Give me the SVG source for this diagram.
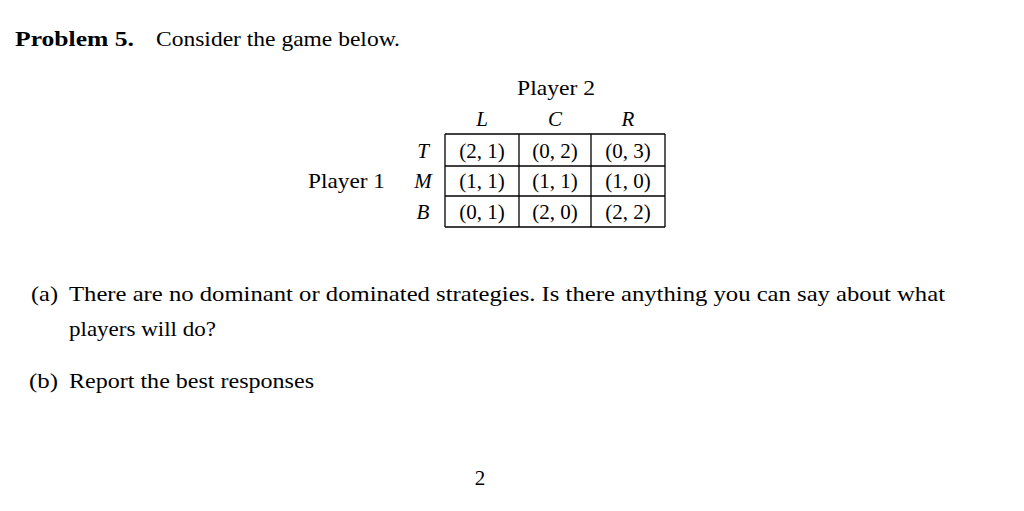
<svg xmlns="http://www.w3.org/2000/svg" width="1024" height="511" viewBox="0 0 1024 511">
<style>
text{font-family:"Liberation Serif","DejaVu Serif",serif;font-size:21px;fill:#000}
.i{font-style:italic}
.c{text-anchor:middle}
line{stroke:#000;stroke-width:1.3}
</style>
<rect width="1024" height="511" fill="#fff"/>
<text x="15" y="46" font-weight="bold" textLength="119" lengthAdjust="spacingAndGlyphs">Problem 5.</text>
<text x="156" y="46" textLength="244" lengthAdjust="spacingAndGlyphs">Consider the game below.</text>
<text x="517" y="95" textLength="78" lengthAdjust="spacingAndGlyphs">Player 2</text>
<text x="482" y="126" class="c i">L</text>
<text x="555" y="126" class="c i">C</text>
<text x="628" y="126" class="c i">R</text>
<text x="423" y="158" class="c i">T</text>
<text x="423" y="188" class="c i">M</text>
<text x="423" y="219" class="c i">B</text>
<text x="308" y="188" textLength="77" lengthAdjust="spacingAndGlyphs">Player 1</text>
<g>
<line x1="445" y1="134" x2="665" y2="134"/>
<line x1="445" y1="166" x2="665" y2="166"/>
<line x1="445" y1="196" x2="665" y2="196"/>
<line x1="445" y1="227" x2="665" y2="227"/>
<line x1="445" y1="134" x2="445" y2="227"/>
<line x1="519" y1="134" x2="519" y2="227"/>
<line x1="591" y1="134" x2="591" y2="227"/>
<line x1="665" y1="134" x2="665" y2="227"/>
</g>
<text x="482" y="158" class="c">(2, 1)</text>
<text x="555" y="158" class="c">(0, 2)</text>
<text x="628" y="158" class="c">(0, 3)</text>
<text x="482" y="188" class="c">(1, 1)</text>
<text x="555" y="188" class="c">(1, 1)</text>
<text x="628" y="188" class="c">(1, 0)</text>
<text x="482" y="219" class="c">(0, 1)</text>
<text x="555" y="219" class="c">(2, 0)</text>
<text x="628" y="219" class="c">(2, 2)</text>
<text x="31" y="301" textLength="27" lengthAdjust="spacingAndGlyphs">(a)</text>
<text x="69" y="301" textLength="876" lengthAdjust="spacingAndGlyphs">There are no dominant or dominated strategies. Is there anything you can say about what</text>
<text x="69" y="336" textLength="147" lengthAdjust="spacingAndGlyphs">players will do?</text>
<text x="29" y="388" textLength="29" lengthAdjust="spacingAndGlyphs">(b)</text>
<text x="69" y="388" textLength="245" lengthAdjust="spacingAndGlyphs">Report the best responses</text>
<text x="480" y="485" class="c">2</text>
</svg>
